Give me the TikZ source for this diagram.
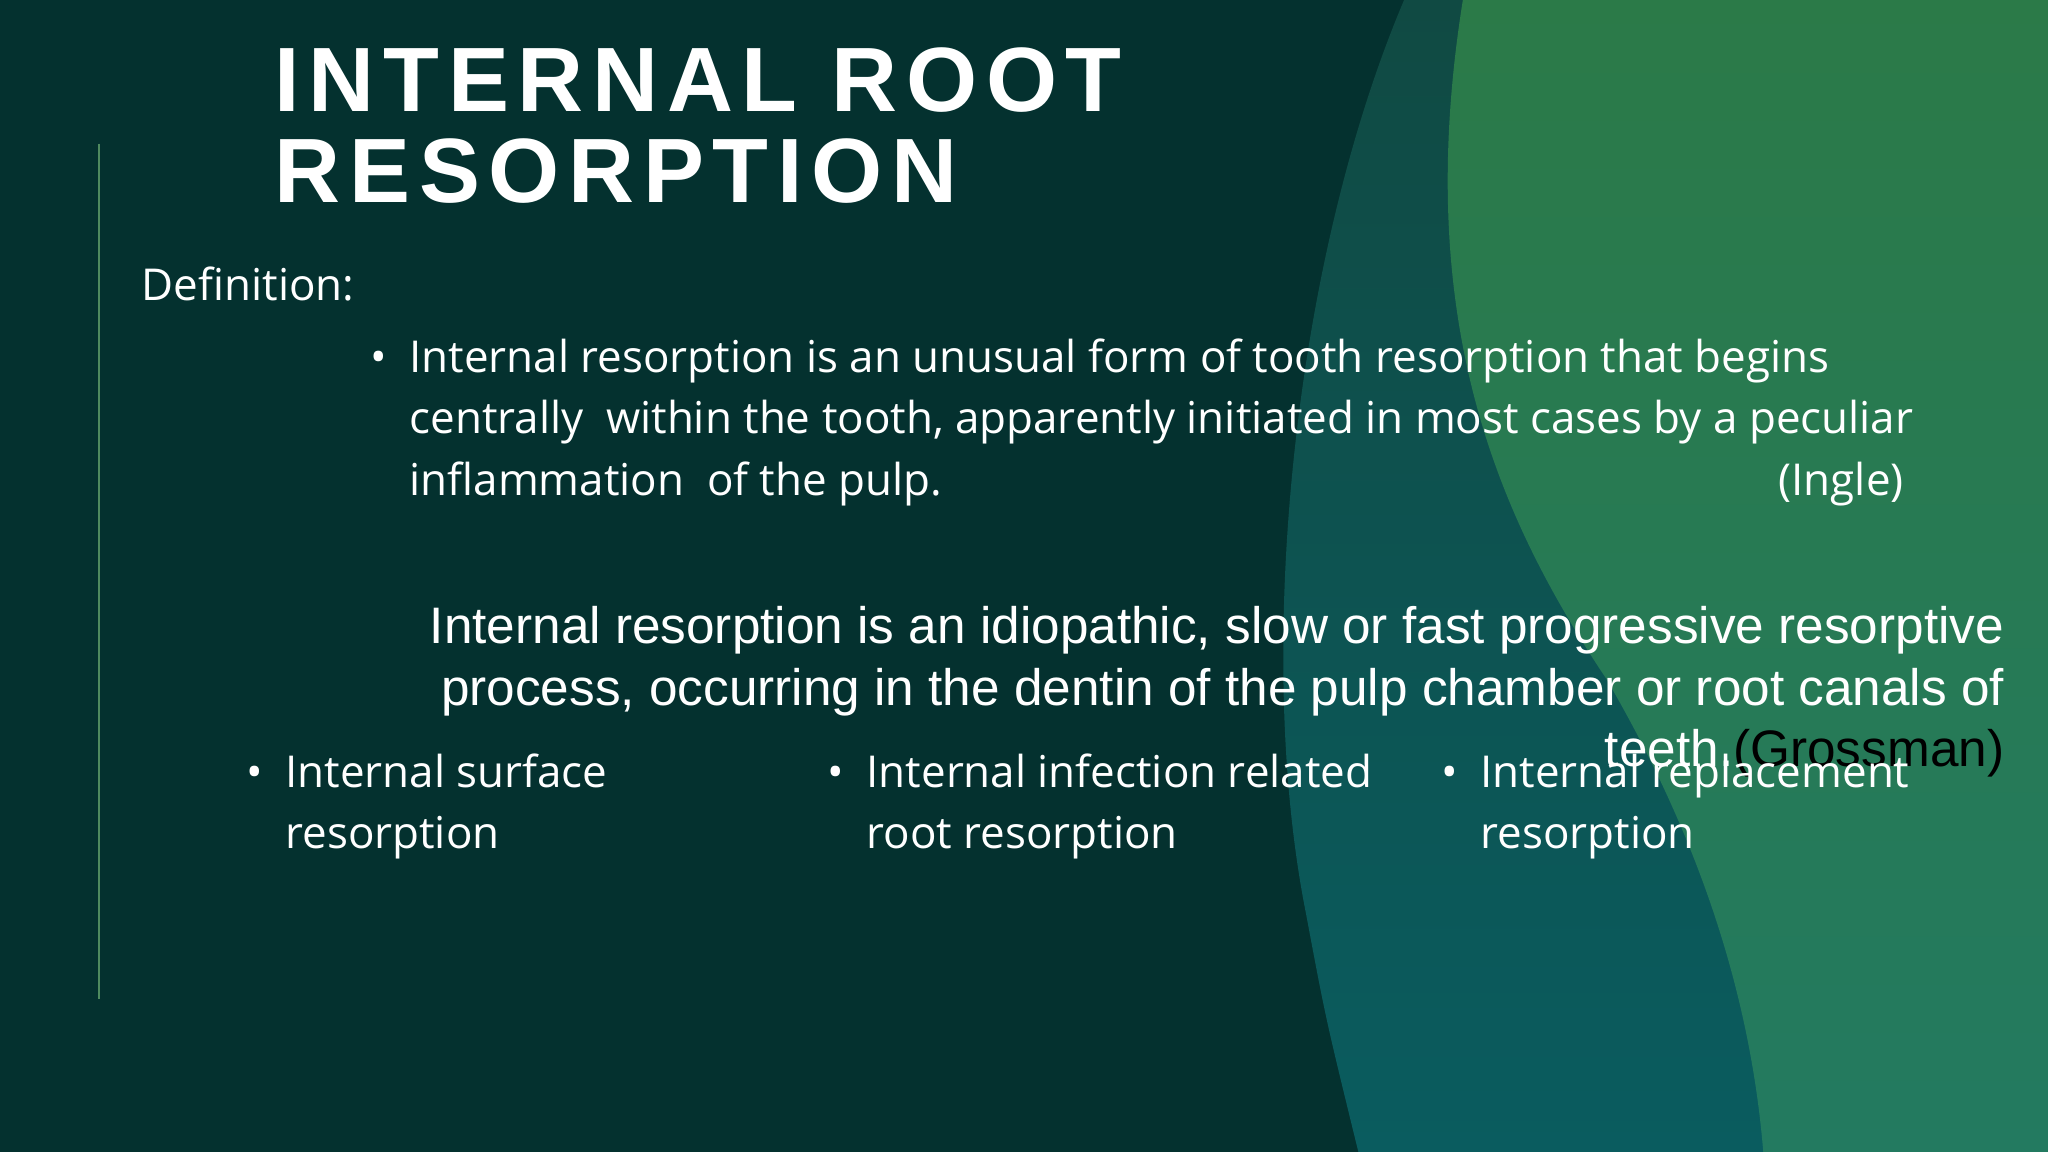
\documentclass[tikz,border=0pt]{standalone}
\usepackage{fontspec}
\setmainfont{Open Sans}
\newfontfamily\arialf{Liberation Sans}
\newfontfamily\titlef[LetterSpace=9.5]{Liberation Sans}
\definecolor{bgdark}{HTML}{04312F}
\definecolor{midteal}{HTML}{104A43}
\definecolor{lowteal}{HTML}{0A5C5F}
\definecolor{greenA}{HTML}{2B7A48}
\definecolor{greenB}{HTML}{237A60}
\definecolor{vline}{HTML}{4F8A5F}
\tikzset{
  body/.style={anchor=base west,inner sep=0pt,text=white,font=\fontsize{12.5}{15}\selectfont},
  grs/.style={anchor=base east,inner sep=0pt,text=white,font=\arialf\fontsize{14.6}{17}\selectfont},
  ttl/.style={anchor=base west,inner sep=0pt,text=white,font=\titlef\bfseries\fontsize{26}{30}\selectfont},
  bul/.style={anchor=base west,inner sep=0pt,text=white,font=\fontsize{12.5}{15}\selectfont}
}
\begin{document}
\begin{tikzpicture}[x=0.01306cm,y=-0.01306cm]
\useasboundingbox (0,0) rectangle (1568,882);
\fill[bgdark] (0,0) rectangle (1568,882);
% mid teal wave
\shade[top color=midteal,bottom color=lowteal] (1075,0) .. controls (990,200) and (960,500) .. (1000,700) .. controls (1015,780) .. (1040,882) -- (1568,882) -- (1568,0) -- cycle;
% green wave
\shade[top color=greenA,bottom color=greenB] (1120,0) .. controls (1080,250) and (1150,400) .. (1230,520) .. controls (1300,640) and (1340,760) .. (1350,882) -- (1568,882) -- (1568,0) -- cycle;
% vertical line
\draw[vline,line width=0.6pt] (76,110) coordinate (la) -- (76,765) coordinate (lb);
% title
\node[ttl] (t1) at (210,85) {INTERNAL ROOT};
\node[ttl] (t2) at (210,155) {RESORPTION};
\node[body] (def) at (108,230) {Definition:};
\node[bul] (b0) at (283,285) {•};
\node[body] (l1) at (313,285) {Internal resorption is an unusual form of tooth resorption that begins};
\node[body] (l2) at (313,332) {centrally\ \ within the tooth, apparently initiated in most cases by a peculiar};
\node[body] (l3) at (313,379) {inflammation\ \ of the pulp.};
\node[body,anchor=base east] (ing) at (1458,379) {(Ingle)};
\node[grs] (g1) at (1535,493) {Internal resorption is an idiopathic, slow or fast progressive resorptive};
\node[grs] (g2) at (1535,540) {process, occurring in the dentin of the pulp chamber or root canals of};
\node[grs] (g3) at (1535,587) {teeth.\textcolor{black}{(Grossman)}};
\node[bul] (c1b) at (188,603) {•};
\node[body] (c1a) at (218,603) {Internal surface};
\node[body] (c1c) at (218,650) {resorption};
\node[bul] (c2b) at (633,603) {•};
\node[body] (c2a) at (663,603) {Internal infection related};
\node[body] (c2c) at (663,650) {root resorption};
\node[bul] (c3b) at (1103,603) {•};
\node[body] (c3a) at (1133,603) {Internal replacement};
\node[body] (c3c) at (1133,650) {resorption};
\end{tikzpicture}
\end{document}
